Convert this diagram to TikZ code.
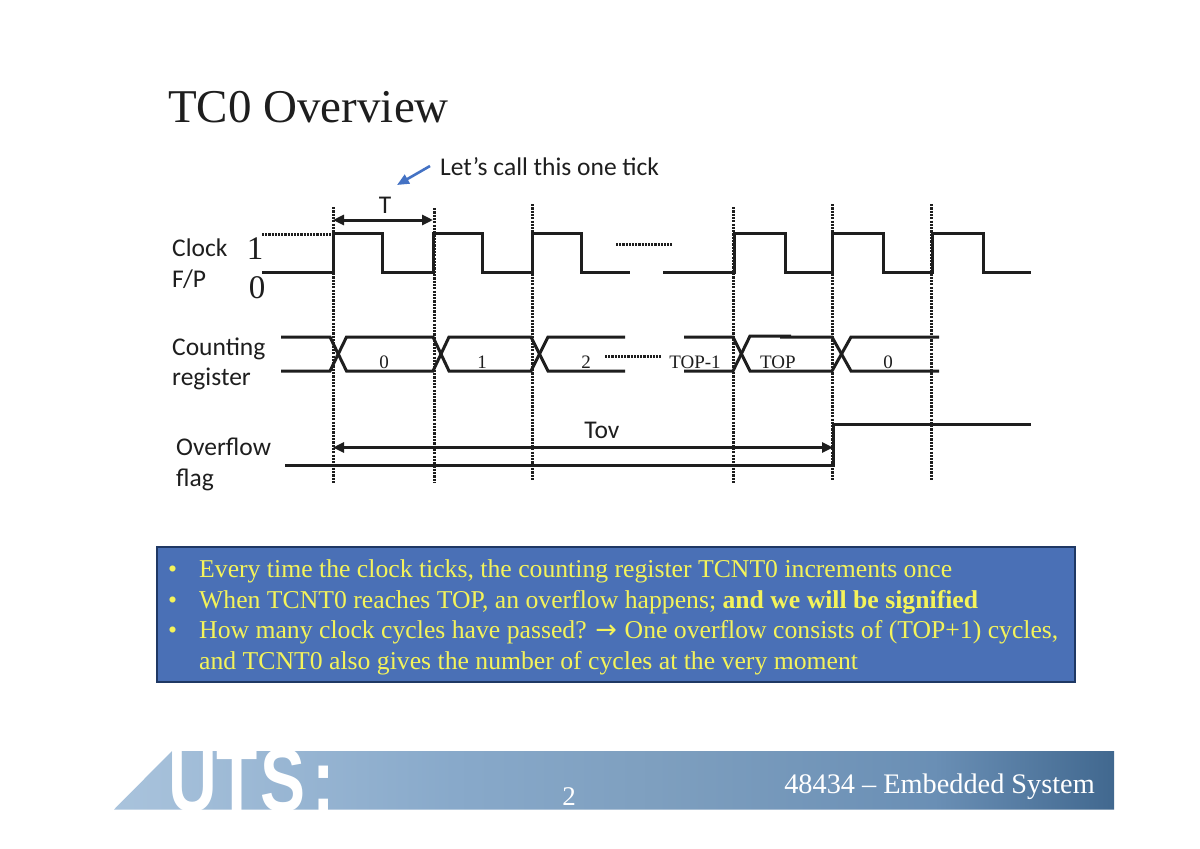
\documentclass[tikz,border=0pt]{standalone}
\usepackage{fontspec}
\setmainfont{Liberation Serif}
\newfontfamily\calfont{Carlito}
\newfontfamily\helfont{Liberation Sans}
\newfontfamily\arrowfont{DejaVu Sans}
\usetikzlibrary{arrows.meta}
\definecolor{boxblue}{HTML}{4A70B6}
\definecolor{boxedge}{HTML}{1F3864}
\definecolor{boxtext}{HTML}{F4F35A}
\definecolor{ink}{HTML}{1E1E1E}
\definecolor{arrowblue}{HTML}{4472C4}
\definecolor{bandA}{HTML}{A9C3DC}
\definecolor{bandB}{HTML}{88A9CA}
\definecolor{bandC}{HTML}{7E9FBF}
\definecolor{bandD}{HTML}{6A8FB5}
\definecolor{bandE}{HTML}{41688F}
\pgfdeclarehorizontalshading{bandshade}{100bp}{
  color(0bp)=(bandA); color(25bp)=(bandA); color(42bp)=(bandB);
  color(52bp)=(bandC); color(66bp)=(bandD); color(75bp)=(bandE); color(100bp)=(bandE)}
\tikzset{
  x=1pt,y=-1pt,
  wave/.style={draw=ink,line width=3pt,line join=miter},
  guide/.style={draw=ink,line width=3pt,dash pattern=on 2.2pt off 1.1pt},
  dotsline/.style={draw=ink,line width=2.4pt,dash pattern=on 2.2pt off 1pt},
  measure/.style={draw=ink,line width=3pt,{Triangle[length=11pt,width=10pt]}-{Triangle[length=11pt,width=10pt]}},
  sidelabel/.style={font=\calfont\fontsize{25.5}{25.5}\selectfont,text=ink,inner sep=0pt,anchor=base west},
  lvlmark/.style={font=\fontsize{33}{33}\selectfont,text=ink,inner sep=0pt},
  val/.style={font=\fontsize{19}{19}\selectfont,text=ink,inner sep=0pt},
  bullettext/.style={font=\fontsize{25.7}{25.7}\selectfont,text=boxtext,inner sep=0pt,anchor=base west},
}
\begin{document}
\begin{tikzpicture}
\useasboundingbox (0,0) rectangle (1200,849);
\fill[white] (0,0) rectangle (1200,849);

% title
\node[anchor=base west,inner sep=0pt,text=ink,font=\fontsize{47}{47}\selectfont] (title) at (168,122) {TC0 Overview};

% guides
\foreach \n/\gx/\ta/\tb in {a/333/207/483,b/434/208/483,c/532/204/481,d/733.5/207/483,e/832/204/480,f/931.5/204/480}{
  \coordinate (\n top) at (\gx,\ta);
  \coordinate (\n bot) at (\gx,\tb);
  \draw[guide] (\n top) -- (\n bot);
}

% clock
\draw[wave] (262,272) -- (333,272) -- (333,233) -- (382.5,233) -- (382.5,272) -- (433,272) -- (433,233) -- (482,233) -- (482,272) -- (532,272) -- (532,233) -- (581.5,233) -- (581.5,272) -- (630,272);
\draw[wave] (663,272) -- (734,272) -- (734,233) -- (785,233) -- (785,272) -- (832.5,272) -- (832.5,233) -- (883.5,233) -- (883.5,272) -- (932,272) -- (932,233) -- (983,233) -- (983,272) -- (1031,272);
\draw[dotsline] (262,234.5) -- (333,234.5);
\draw[dotsline] (616,244.5) -- (672,244.5);

% counting register
\draw[wave] (281,337) -- (330,337) -- (346.5,371) -- (433,371) -- (449,337) -- (531,337) -- (548,371) -- (625,371);
\draw[wave] (281,371) -- (330,371) -- (346.5,337) -- (433,337) -- (449,371) -- (531,371) -- (548,337) -- (625,337);
\draw[wave] (684,337) -- (733,337) -- (750,371) -- (832,371) -- (851,337) -- (939,337);
\draw[wave] (684,371) -- (733,371) -- (750,336) -- (791,336);
\draw[wave] (780,337) -- (832,337) -- (851,371) -- (939,371);
\draw[dotsline] (605,356.5) -- (661,356.5);

% overflow flag
\draw[wave] (285,465.5) -- (833,465.5) -- (833,424.5) -- (1031,424.5);

% measures
\coordinate (Tl) at (333,220); \coordinate (Tr) at (433,220);
\draw[measure] (Tl) -- (Tr);
\coordinate (Ovl) at (333,447.5); \coordinate (Ovr) at (833,447.5);
\draw[measure] (Ovl) -- (Ovr);

% labels
\node[sidelabel] (tick) at (440,175) {Let’s call this one tick};
\coordinate (tickfrom) at (430,166);
\coordinate (tickto) at (397,185);
\draw[draw=arrowblue,line width=2.6pt,-{Triangle[length=12pt,width=10pt]}] (tickfrom) -- (tickto);
\node[sidelabel,anchor=base] (Tlab) at (385,213) {T};
\node[sidelabel,anchor=base] (Tovlab) at (602,438.5) {Tov};
\node[sidelabel] (clk) at (172,256) {Clock};
\node[sidelabel] (fp) at (172,287) {F/P};
\node[sidelabel] (cnt) at (172,355) {Counting};
\node[sidelabel] (reg) at (172,385.5) {register};
\node[sidelabel] (ovf) at (176,455) {Overflow};
\node[sidelabel] (flg) at (176,486) {flag};
\node[lvlmark] (one) at (255,249) {1};
\node[lvlmark] (zero) at (257,288) {0};
\node[val] (v0) at (384,362.5) {0};
\node[val] (v1) at (482,362.5) {1};
\node[val] (v2) at (586,362.5) {2};
\node[val] (v3) at (695,362.5) {TOP-1};
\node[val] (v4) at (778,362.5) {TOP};
\node[val] (v5) at (888,362.5) {0};

% text box
\path[fill=boxblue,draw=boxedge,line width=1.6pt] (157,547) rectangle (1075,682);
\foreach \n/\by in {p/577,q/608,r/638}{
  \node[bullettext] (\n) at (168,\by) {•};
}
\node[bullettext] (l1) at (199,577) {Every time the clock ticks, the counting register TCNT0 increments once};
\node[bullettext] (l2) at (199,608) {When TCNT0 reaches TOP, an overflow happens; \textbf{and we will be signified}};
\node[bullettext] (l3) at (199,638) {How many clock cycles have passed? {\arrowfont →}\kern1.5pt\ One overflow consists of (TOP+1) cycles,};
\node[bullettext] (l4) at (199,669) {and TCNT0 also gives the number of cycles at the very moment};

% footer band
\shade[shading=bandshade] (114,809.5) -- (172,751) -- (1114,751) -- (1114,809.5) -- cycle;
\begin{scope}
\clip (114,751) rectangle (1114,809.5);
\node[anchor=base west,inner sep=0pt,text=white,xscale=.75,font=\helfont\bfseries\fontsize{90}{90}\selectfont] (uts) at (168,811) {UT\kern3ptS\kern10pt:};
\end{scope}
\node[anchor=base,inner sep=0pt,text=white,font=\fontsize{27}{27}\selectfont] (pg) at (569,805) {2};
\node[anchor=base east,inner sep=0pt,text=white,font=\fontsize{28.3}{28.3}\selectfont] (course) at (1095,793) {48434 – Embedded System};
\end{tikzpicture}
\end{document}
